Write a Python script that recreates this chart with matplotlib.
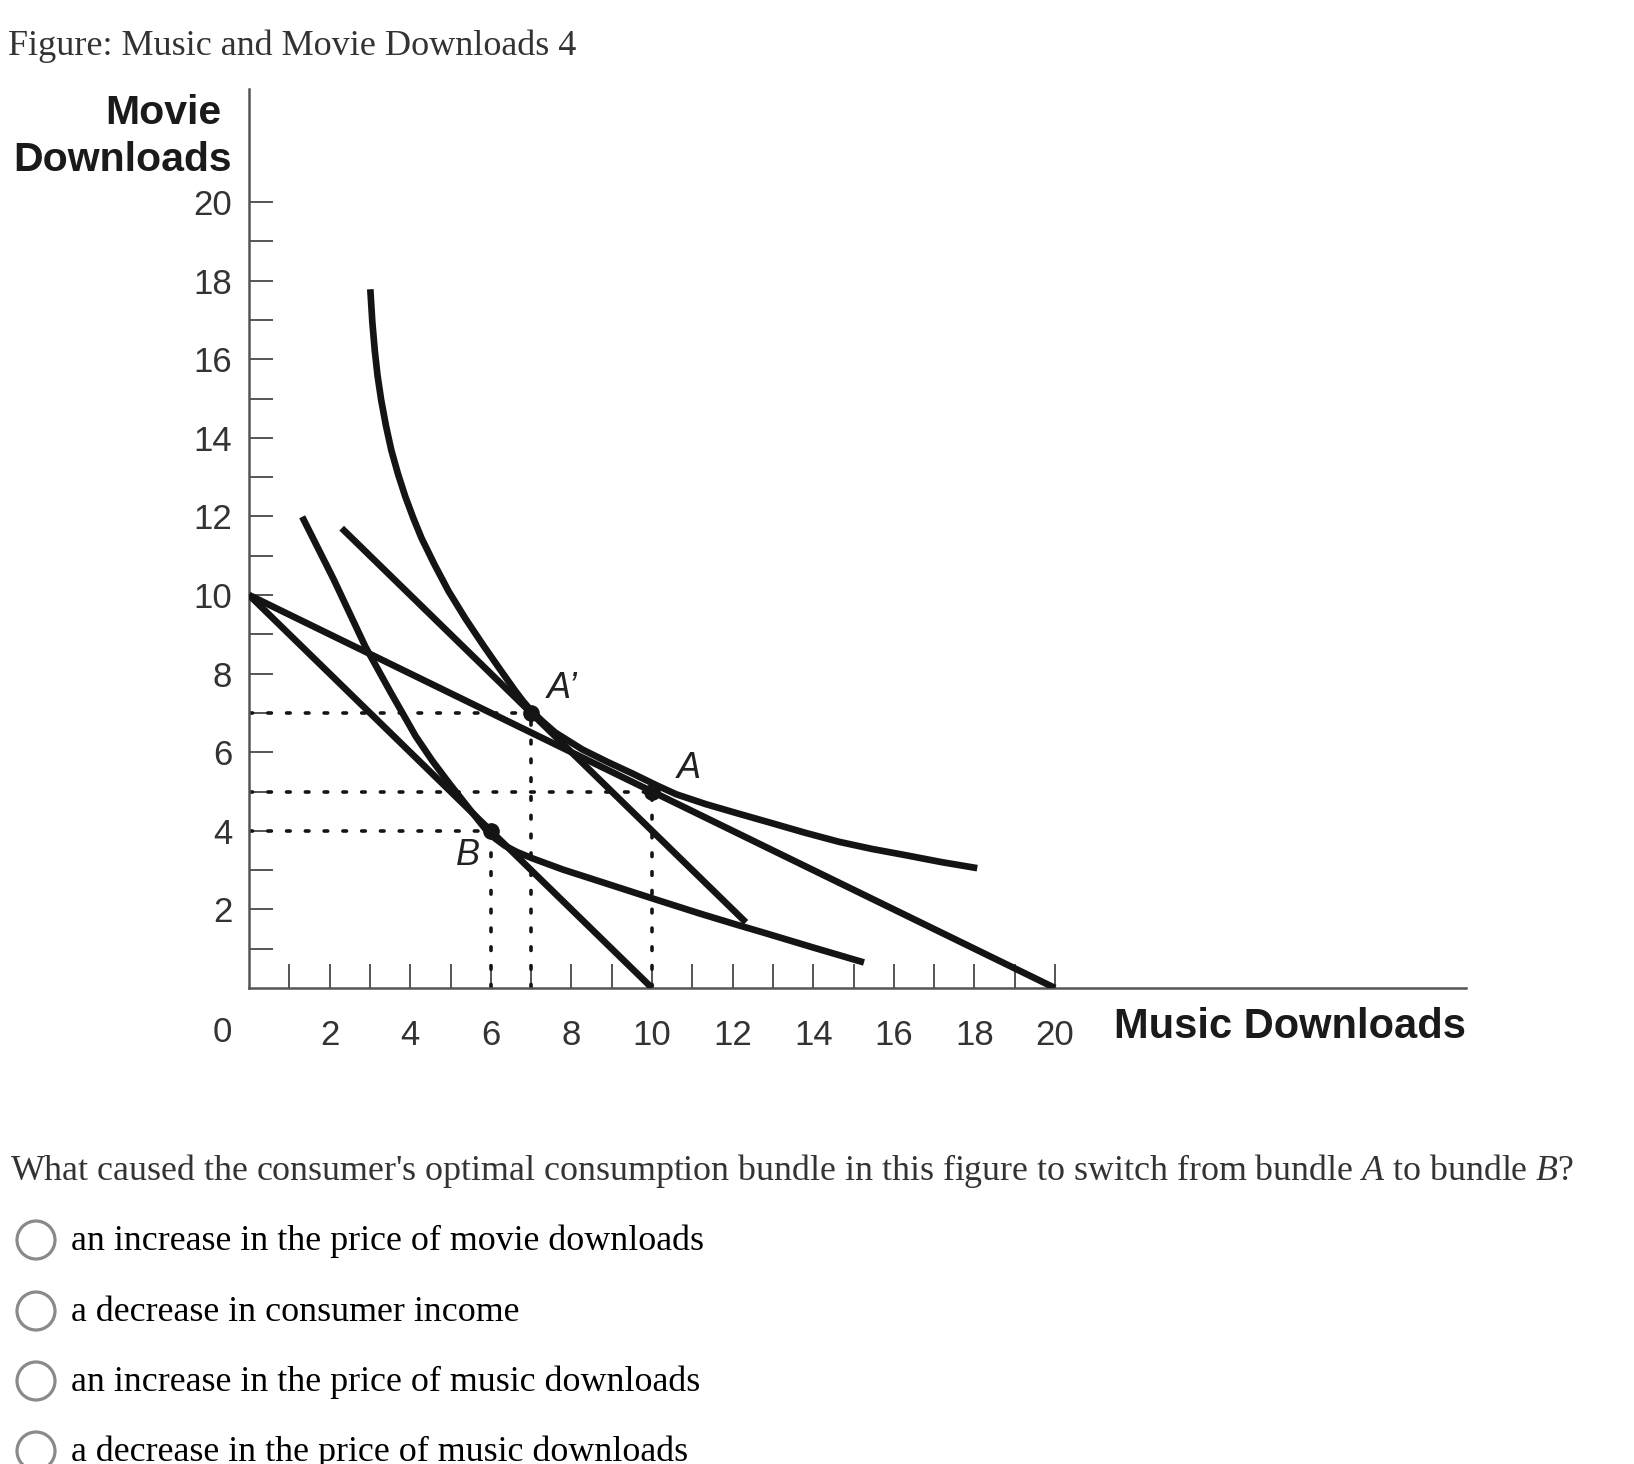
import matplotlib
matplotlib.use("Agg")
import matplotlib.pyplot as plt
from matplotlib.patches import Circle
from matplotlib.ticker import FixedLocator

# ---------------- data ----------------
# higher indifference curve (through A' and A)
upper_ic_x = [3.01, 3.06, 3.12, 3.19, 3.28, 3.40, 3.53, 3.70, 3.88, 4.08, 4.28, 4.60, 4.95,
              5.37, 5.80, 6.20, 6.60, 6.80, 7.00, 7.30, 7.60, 8.27, 8.90, 9.51, 10.13,
              10.60, 11.33, 12.10, 12.99, 13.80, 14.64, 15.45, 16.29, 17.20, 18.07]
upper_ic_y = [17.78, 16.95, 16.23, 15.58, 14.96, 14.30, 13.69, 13.07, 12.50, 11.95, 11.45,
              10.78, 10.10, 9.40, 8.74, 8.15, 7.57, 7.30, 7.06, 6.77, 6.50, 6.07, 5.75,
              5.46, 5.15, 4.93, 4.68, 4.45, 4.19, 3.95, 3.72, 3.54, 3.38, 3.20, 3.05]
# lower indifference curve (through B)
lower_ic_x = [1.32, 2.10, 2.89, 3.50, 4.14, 4.55, 4.96, 5.45, 5.87, 6.10, 6.35, 6.65,
              7.03, 7.80, 8.68, 10.13, 11.17, 12.07, 12.80, 14.00, 15.26]
lower_ic_y = [11.99, 10.40, 8.68, 7.55, 6.40, 5.78, 5.22, 4.58, 4.04, 3.81, 3.62, 3.46,
              3.30, 3.01, 2.72, 2.24, 1.90, 1.62, 1.40, 1.03, 0.65]
# budget lines
budget_orig_x = [0, 20]
budget_orig_y = [10, 0]
budget_new_x = [0, 10]
budget_new_y = [10, 0]
budget_comp_x = [2.30, 12.33]
budget_comp_y = [11.70, 1.67]
# bundles
point_names = ["A", "A\u2019", "B"]
point_x = [10, 7, 6]
point_y = [5, 7, 4]
# ticks
x_tick_labels = [2, 4, 6, 8, 10, 12, 14, 16, 18, 20]
y_tick_labels = [2, 4, 6, 8, 10, 12, 14, 16, 18, 20]
minor_ticks = list(range(1, 21))

title_text = "Figure: Music and Movie Downloads 4"
question_text = ("What caused the consumer's optimal consumption bundle in this figure "
                 "to switch from bundle $\\mathit{A}$ to bundle $\\mathit{B}$?")
options = ["an increase in the price of movie downloads",
           "a decrease in consumer income",
           "an increase in the price of music downloads",
           "a decrease in the price of music downloads"]

# ---------------- figure ----------------
plt.rcParams['mathtext.fontset'] = 'custom'
plt.rcParams['mathtext.rm'] = 'Liberation Serif'
plt.rcParams['mathtext.it'] = 'Liberation Serif:italic'

W, H = 1634, 1464
fig = plt.figure(figsize=(W / 100, H / 100), dpi=100)
fig.patch.set_facecolor('white')

ax_left, ax_right, ax_bottom, ax_top = 249, 1466, 988, 89   # pixel positions
ax = fig.add_axes([ax_left / W, (H - ax_bottom) / H,
                   (ax_right - ax_left) / W, (ax_bottom - ax_top) / H])
ax.set_xlim(0, (ax_right - ax_left) / 40.3)
ax.set_ylim(0, (ax_bottom - ax_top) / 39.3)
ax.patch.set_visible(False)

for s in ['top', 'right']:
    ax.spines[s].set_visible(False)
for s in ['left', 'bottom']:
    ax.spines[s].set_color('#555555')
    ax.spines[s].set_linewidth(1.8)

ax.set_xticks(x_tick_labels)
ax.set_yticks(y_tick_labels)
ax.set_xticklabels([str(v) for v in x_tick_labels])
ax.set_yticklabels([str(v) for v in y_tick_labels])
ax.xaxis.set_minor_locator(FixedLocator(minor_ticks))
ax.yaxis.set_minor_locator(FixedLocator(minor_ticks))
ax.tick_params(axis='both', which='both', direction='in', length=17.5, width=1.4,
               color='#555555')
ax.tick_params(axis='x', which='major', pad=22, labelsize=25, labelcolor='#333333')
ax.tick_params(axis='y', which='major', pad=12, labelsize=25, labelcolor='#333333')
for lab in ax.get_xticklabels() + ax.get_yticklabels():
    lab.set_fontfamily('Liberation Sans')

lw = 4.8
col = '#141414'
# dotted guides
for px, py in zip(point_x, point_y):
    ax.plot([0, px], [py, py], color=col, lw=2.6, linestyle=(0, (1, 4.2)),
            dash_capstyle='round', zorder=2)
    ax.plot([px, px], [0, py], color=col, lw=2.6, linestyle=(0, (1, 4.2)),
            dash_capstyle='round', zorder=2)

ax.plot(budget_orig_x, budget_orig_y, color=col, lw=lw, solid_capstyle='butt', zorder=3)
ax.plot(budget_new_x, budget_new_y, color=col, lw=lw, solid_capstyle='butt', zorder=3)
ax.plot(budget_comp_x, budget_comp_y, color=col, lw=lw, solid_capstyle='butt', zorder=3)
ax.plot(upper_ic_x, upper_ic_y, color=col, lw=lw, solid_capstyle='butt',
        solid_joinstyle='round', zorder=3)
ax.plot(lower_ic_x, lower_ic_y, color=col, lw=lw, solid_capstyle='butt',
        solid_joinstyle='round', zorder=3)
ax.plot(point_x, point_y, 'o', ms=11, color=col, zorder=4)

label_offsets = {"A": (26.7, 16.7), "A\u2019": (22.3, 17.8), "B": (-16.8, -17.6)}
for name, px, py in zip(point_names, point_x, point_y):
    ax.annotate(name, (px, py), xytext=label_offsets[name], textcoords='offset points',
                ha='center', va='center', fontsize=26, fontstyle='italic',
                fontfamily='Liberation Sans', color='#222222', zorder=5)

# origin label
ax.annotate("0", (0, 0), xytext=(-19.5, -32), textcoords='offset points',
            ha='center', va='center', fontsize=25, fontfamily='Liberation Sans',
            color='#333333')

# ---------------- overlay (pixel coordinates) ----------------
ov = fig.add_axes([0, 0, 1, 1])
ov.set_xlim(0, W)
ov.set_ylim(H, 0)
ov.axis('off')
ov.patch.set_visible(False)

ov.text(8, 55, title_text, fontfamily='Liberation Serif', fontsize=26,
        color='#333333', va='baseline', ha='left')
ov.text(221, 124, "Movie", fontfamily='Liberation Sans', fontweight='bold',
        fontsize=29.5, color='#1a1a1a', va='baseline', ha='right')
ov.text(232, 171, "Downloads", fontfamily='Liberation Sans', fontweight='bold',
        fontsize=29.5, color='#1a1a1a', va='baseline', ha='right')
ov.text(1466, 1038, "Music Downloads", fontfamily='Liberation Sans', fontweight='bold',
        fontsize=30, color='#1a1a1a', va='baseline', ha='right')

ov.text(10, 1180, question_text, fontfamily='Liberation Serif', fontsize=25.8,
        color='#333333', va='baseline', ha='left')
opt_baselines = [1250, 1321, 1391, 1461]
for txt, yb in zip(options, opt_baselines):
    ov.add_patch(Circle((36, yb - 10), 19, facecolor='white', edgecolor='#8a8a8a',
                        lw=2.3))
    ov.text(71, yb, txt, fontfamily='Liberation Serif', fontsize=25.8,
            color='#000000', va='baseline', ha='left')

fig.savefig("out.png", dpi=100, facecolor='white')
